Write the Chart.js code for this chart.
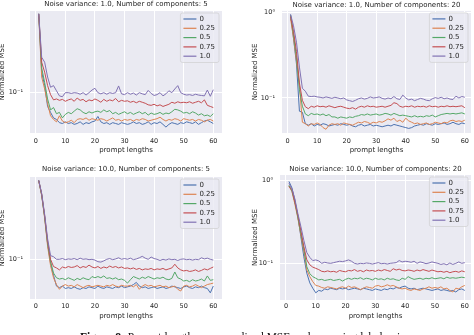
<!DOCTYPE html>
<html>
<head>
<meta charset="utf-8">
<script src="https://cdn.jsdelivr.net/npm/chart.js@4.4.0/dist/chart.umd.min.js"></script>
<style>
  body { margin: 0; width: 474px; height: 335px; overflow: hidden; background: #fff; position: relative; }
  canvas { position: absolute; }
  #caption {
    position: absolute; left: 80px; top: 331px; white-space: nowrap;
    font-family: "Liberation Serif", serif; font-size: 11.5px; line-height: 13px; color: #111;
  }
</style>
</head>
<body>
<canvas id="tl" width="237" height="160" style="left:0;top:0"></canvas>
<canvas id="tr" width="237" height="160" style="left:237px;top:0"></canvas>
<canvas id="bl" width="237" height="175" style="left:0;top:160px"></canvas>
<canvas id="br" width="237" height="175" style="left:237px;top:160px"></canvas>
<div id="caption"><b>Figure 8:</b> Prompt length vs. normalized MSE under varying label noise.</div>
<script>
// ---- data ----
const promptLengths = [1,2,3,4,5,6,7,8,9,10,11,12,13,14,15,16,17,18,19,20,
  21,22,23,24,25,26,27,28,29,30,31,32,33,34,35,36,37,38,39,40,
  41,42,43,44,45,46,47,48,49,50,51,52,53,54,55,56,57,58,59,60];
const seriesLabels = ['0', '0.25', '0.5', '0.75', '1.0'];
const xTickValues = [0, 10, 20, 30, 40, 50, 60];
const yTickValues = [0.1, 1];

// Noise variance 1.0, 5 components
const tl0 = [0.77,0.17,0.12,0.07,0.06,0.052,0.05,0.046,0.045,0.047,
  0.045,0.046,0.044,0.045,0.047,0.044,0.046,0.045,0.047,0.048,
  0.054,0.047,0.045,0.046,0.044,0.046,0.045,0.044,0.046,0.045,
  0.044,0.045,0.047,0.045,0.046,0.044,0.045,0.047,0.044,0.046,
  0.045,0.047,0.044,0.041,0.044,0.046,0.045,0.044,0.046,0.045,
  0.047,0.046,0.045,0.047,0.044,0.046,0.048,0.049,0.047,0.045];
const tl25 = [0.75,0.15,0.11,0.075,0.055,0.05,0.047,0.055,0.048,0.046,
  0.047,0.049,0.046,0.05,0.051,0.05,0.052,0.049,0.051,0.05,
  0.049,0.051,0.05,0.048,0.05,0.052,0.049,0.05,0.048,0.05,
  0.049,0.05,0.048,0.05,0.049,0.051,0.05,0.048,0.049,0.05,
  0.051,0.053,0.05,0.048,0.05,0.049,0.051,0.05,0.048,0.051,
  0.05,0.049,0.05,0.048,0.05,0.049,0.047,0.049,0.05,0.048];
const tl50 = [0.77,0.19,0.13,0.085,0.064,0.068,0.058,0.06,0.052,0.057,
  0.06,0.058,0.062,0.066,0.064,0.06,0.058,0.061,0.059,0.061,
  0.062,0.06,0.064,0.061,0.063,0.058,0.06,0.057,0.059,0.061,
  0.058,0.06,0.057,0.059,0.061,0.058,0.06,0.056,0.059,0.057,
  0.058,0.06,0.057,0.059,0.058,0.061,0.065,0.064,0.062,0.059,
  0.06,0.058,0.061,0.059,0.056,0.058,0.055,0.056,0.054,0.058];
const tl75 = [0.77,0.22,0.17,0.12,0.095,0.083,0.085,0.082,0.084,0.08,
  0.083,0.085,0.08,0.087,0.082,0.084,0.079,0.083,0.081,0.085,
  0.082,0.078,0.084,0.08,0.083,0.081,0.086,0.079,0.082,0.08,
  0.081,0.078,0.08,0.077,0.08,0.078,0.076,0.073,0.072,0.074,
  0.071,0.073,0.07,0.072,0.074,0.078,0.076,0.079,0.077,0.078,
  0.077,0.079,0.076,0.078,0.08,0.077,0.083,0.072,0.07,0.068];
const tl100 = [0.77,0.25,0.22,0.15,0.115,0.12,0.105,0.092,0.09,0.1,
  0.1,0.098,0.1,0.099,0.096,0.1,0.094,0.1,0.107,0.112,
  0.1,0.097,0.1,0.096,0.1,0.098,0.1,0.119,0.097,0.095,
  0.1,0.096,0.099,0.094,0.1,0.097,0.095,0.106,0.098,0.093,
  0.095,0.1,0.092,0.097,0.105,0.1,0.11,0.12,0.1,0.096,
  0.094,0.095,0.093,0.096,0.094,0.093,0.092,0.107,0.091,0.108];

// Noise variance 1.0, 20 components
const tr0 = [0.95,0.5,0.25,0.07,0.068,0.05,0.048,0.05,0.047,0.049,
  0.048,0.05,0.049,0.047,0.048,0.049,0.048,0.05,0.049,0.048,
  0.049,0.047,0.046,0.048,0.049,0.047,0.048,0.049,0.047,0.048,
  0.047,0.046,0.047,0.048,0.047,0.049,0.048,0.047,0.046,0.045,
  0.044,0.045,0.047,0.048,0.049,0.048,0.05,0.049,0.048,0.05,
  0.049,0.05,0.051,0.049,0.05,0.052,0.05,0.049,0.051,0.05];
const tr25 = [0.85,0.5,0.27,0.14,0.052,0.05,0.047,0.05,0.049,0.051,
  0.049,0.045,0.043,0.048,0.05,0.049,0.05,0.048,0.051,0.05,
  0.049,0.048,0.05,0.052,0.051,0.053,0.052,0.05,0.052,0.051,
  0.053,0.052,0.054,0.057,0.055,0.058,0.053,0.055,0.052,0.058,
  0.054,0.052,0.05,0.051,0.049,0.05,0.051,0.049,0.05,0.052,
  0.051,0.05,0.052,0.051,0.054,0.055,0.053,0.054,0.053,0.055];
const tr50 = [0.93,0.55,0.3,0.125,0.08,0.065,0.062,0.066,0.064,0.065,
  0.063,0.065,0.062,0.064,0.06,0.06,0.058,0.06,0.059,0.058,
  0.06,0.059,0.061,0.062,0.064,0.063,0.065,0.063,0.064,0.065,
  0.063,0.064,0.066,0.065,0.063,0.066,0.064,0.062,0.063,0.062,
  0.061,0.06,0.062,0.06,0.061,0.06,0.062,0.061,0.063,0.06,
  0.062,0.064,0.065,0.066,0.065,0.066,0.065,0.066,0.067,0.065];
const tr75 = [0.9,0.6,0.35,0.15,0.094,0.079,0.075,0.08,0.078,0.081,
  0.079,0.08,0.078,0.081,0.079,0.077,0.079,0.08,0.078,0.076,
  0.075,0.077,0.074,0.078,0.08,0.078,0.081,0.079,0.08,0.078,
  0.079,0.08,0.078,0.08,0.082,0.088,0.086,0.08,0.078,0.08,
  0.079,0.081,0.078,0.08,0.079,0.08,0.078,0.081,0.079,0.08,
  0.078,0.08,0.079,0.081,0.079,0.08,0.079,0.08,0.081,0.077];
const tr100 = [0.95,0.7,0.45,0.23,0.13,0.12,0.105,0.104,0.105,0.103,
  0.102,0.1,0.103,0.101,0.099,0.102,0.1,0.098,0.1,0.095,
  0.093,0.091,0.094,0.098,0.1,0.097,0.099,0.103,0.1,0.101,
  0.103,0.099,0.097,0.1,0.098,0.104,0.098,0.096,0.108,0.1,
  0.095,0.097,0.093,0.096,0.099,0.097,0.094,0.093,0.098,0.101,
  0.099,0.102,0.098,0.1,0.097,0.096,0.105,0.1,0.104,0.102];

// Noise variance 10.0, 5 components
const bl0 = [0.77,0.53,0.3,0.15,0.09,0.066,0.05,0.048,0.05,0.047,
  0.048,0.047,0.049,0.047,0.046,0.048,0.047,0.049,0.048,0.047,
  0.05,0.048,0.047,0.049,0.048,0.047,0.049,0.048,0.05,0.048,
  0.049,0.05,0.052,0.055,0.05,0.048,0.049,0.047,0.048,0.049,
  0.047,0.048,0.049,0.047,0.048,0.05,0.049,0.048,0.047,0.049,
  0.05,0.048,0.047,0.049,0.048,0.05,0.048,0.047,0.042,0.05];
const bl25 = [0.76,0.52,0.29,0.14,0.085,0.062,0.052,0.046,0.05,0.052,
  0.05,0.051,0.049,0.052,0.05,0.048,0.05,0.051,0.049,0.05,
  0.051,0.05,0.049,0.051,0.05,0.052,0.05,0.049,0.051,0.05,
  0.05,0.051,0.049,0.052,0.046,0.05,0.052,0.05,0.051,0.049,
  0.05,0.051,0.049,0.05,0.048,0.049,0.05,0.046,0.044,0.05,
  0.051,0.049,0.05,0.052,0.05,0.048,0.05,0.052,0.053,0.054];
const bl50 = [0.77,0.53,0.3,0.15,0.095,0.07,0.062,0.06,0.061,0.059,
  0.062,0.06,0.058,0.061,0.059,0.062,0.06,0.059,0.064,0.062,
  0.064,0.062,0.065,0.061,0.062,0.06,0.062,0.059,0.06,0.058,
  0.054,0.059,0.064,0.062,0.06,0.063,0.061,0.064,0.062,0.06,
  0.062,0.061,0.063,0.06,0.059,0.061,0.072,0.062,0.06,0.057,
  0.058,0.056,0.059,0.057,0.058,0.06,0.057,0.065,0.058,0.059];
const bl75 = [0.77,0.54,0.31,0.16,0.1,0.083,0.08,0.076,0.082,0.08,
  0.083,0.081,0.082,0.085,0.08,0.083,0.081,0.086,0.082,0.08,
  0.083,0.079,0.082,0.08,0.084,0.081,0.083,0.08,0.082,0.079,
  0.08,0.078,0.08,0.077,0.079,0.076,0.078,0.077,0.079,0.076,
  0.078,0.077,0.079,0.076,0.078,0.08,0.088,0.08,0.076,0.074,
  0.075,0.073,0.074,0.076,0.073,0.075,0.078,0.076,0.079,0.082];
const bl100 = [0.77,0.55,0.32,0.17,0.11,0.107,0.1,0.1,0.102,0.099,
  0.101,0.1,0.102,0.099,0.103,0.1,0.101,0.099,0.1,0.098,
  0.094,0.093,0.096,0.1,0.102,0.099,0.101,0.104,0.1,0.102,
  0.1,0.103,0.099,0.101,0.104,0.108,0.103,0.1,0.106,0.102,
  0.1,0.097,0.1,0.098,0.101,0.099,0.1,0.097,0.1,0.101,
  0.099,0.1,0.098,0.1,0.099,0.104,0.101,0.103,0.1,0.098];

// Noise variance 10.0, 20 components
const br0 = [0.98,0.82,0.58,0.37,0.21,0.12,0.076,0.058,0.05,0.044,
  0.047,0.046,0.049,0.048,0.05,0.049,0.048,0.05,0.049,0.05,
  0.048,0.049,0.05,0.049,0.048,0.05,0.049,0.048,0.047,0.049,
  0.048,0.047,0.049,0.048,0.05,0.049,0.051,0.05,0.052,0.053,
  0.05,0.049,0.05,0.048,0.049,0.05,0.049,0.048,0.047,0.048,
  0.049,0.047,0.048,0.047,0.046,0.047,0.045,0.048,0.049,0.047];
const br25 = [0.86,0.74,0.52,0.35,0.22,0.14,0.083,0.069,0.06,0.054,
  0.053,0.051,0.05,0.052,0.051,0.05,0.049,0.051,0.052,0.05,
  0.053,0.051,0.052,0.05,0.048,0.05,0.052,0.051,0.05,0.053,
  0.054,0.052,0.053,0.055,0.053,0.054,0.052,0.05,0.049,0.05,
  0.048,0.047,0.049,0.048,0.047,0.049,0.05,0.052,0.05,0.051,
  0.05,0.052,0.049,0.05,0.047,0.045,0.05,0.049,0.052,0.054];
const br50 = [0.88,0.75,0.55,0.36,0.23,0.15,0.091,0.075,0.069,0.066,
  0.063,0.064,0.062,0.063,0.064,0.062,0.063,0.064,0.061,0.064,
  0.066,0.064,0.066,0.065,0.067,0.064,0.066,0.065,0.063,0.066,
  0.064,0.065,0.063,0.066,0.064,0.065,0.063,0.062,0.066,0.064,
  0.069,0.066,0.064,0.065,0.066,0.064,0.066,0.065,0.067,0.065,
  0.066,0.067,0.065,0.068,0.066,0.067,0.066,0.067,0.068,0.067];
const br75 = [0.85,0.78,0.55,0.38,0.25,0.16,0.11,0.096,0.09,0.087,
  0.084,0.08,0.079,0.081,0.079,0.08,0.078,0.082,0.08,0.079,
  0.082,0.081,0.084,0.08,0.082,0.079,0.083,0.081,0.082,0.08,
  0.083,0.081,0.084,0.082,0.08,0.086,0.083,0.085,0.082,0.081,
  0.083,0.082,0.08,0.083,0.081,0.084,0.082,0.08,0.083,0.081,
  0.079,0.08,0.078,0.08,0.077,0.079,0.08,0.078,0.081,0.079];
const br100 = [0.93,0.8,0.6,0.4,0.28,0.19,0.135,0.118,0.108,0.11,
  0.107,0.1,0.103,0.101,0.1,0.102,0.104,0.106,0.105,0.107,
  0.11,0.106,0.1,0.098,0.1,0.099,0.101,0.1,0.098,0.1,
  0.102,0.099,0.1,0.098,0.1,0.101,0.102,0.108,0.104,0.106,
  0.105,0.103,0.106,0.1,0.104,0.102,0.099,0.101,0.104,0.102,
  0.1,0.097,0.099,0.096,0.101,0.097,0.1,0.104,0.1,0.102];

// ---- style ----
const FONT = '"DejaVu Sans", sans-serif';
const INK = '#262626';
const colors = ['#4c72b0', '#dd8452', '#55a868', '#c44e52', '#8172b3'];
Chart.defaults.font.family = FONT;

const plotBg = {
  id: 'plotBg',
  beforeDraw(chart) {
    const a = chart.chartArea, ctx = chart.ctx;
    ctx.save();
    ctx.fillStyle = '#eaeaf2';
    ctx.fillRect(a.left, a.top, a.right - a.left, a.bottom - a.top);
    ctx.restore();
  }
};

// legend box in the upper right corner of the axes, like matplotlib
const legendBox = {
  id: 'legendBox',
  afterDatasetsDraw(chart) {
    const a = chart.chartArea, ctx = chart.ctx;
    const sets = chart.data.datasets;
    ctx.save();
    ctx.font = '7px ' + FONT;
    const tw = Math.max(...sets.map(d => ctx.measureText(d.label).width));
    const row = 9.3;
    const w = 19 + tw + 4, h = row * sets.length + 3;
    const x = a.right - 3 - w, y = a.top + 2;
    ctx.beginPath();
    ctx.roundRect(x, y, w, h, 2);
    ctx.fillStyle = 'rgba(234,234,242,0.8)';
    ctx.fill();
    ctx.strokeStyle = 'rgba(204,204,204,0.8)';
    ctx.lineWidth = 0.8;
    ctx.stroke();
    ctx.textBaseline = 'middle';
    sets.forEach((d, i) => {
      const cy = y + 6 + i * row;
      ctx.beginPath();
      ctx.moveTo(x + 3, cy);
      ctx.lineTo(x + 16, cy);
      ctx.strokeStyle = d.borderColor;
      ctx.lineWidth = 1.2;
      ctx.stroke();
      ctx.fillStyle = INK;
      ctx.fillText(d.label, x + 19, cy);
    });
    ctx.restore();
  }
};

function panel(id, title, series, xRange, yRange, box) {
  const el = document.getElementById(id);
  const W = el.width, H = el.height;
  return new Chart(el, {
    type: 'line',
    data: {
      datasets: series.map((vals, i) => ({
        label: seriesLabels[i],
        data: vals.map((v, j) => ({ x: promptLengths[j], y: v })),
        borderColor: colors[i],
        borderWidth: 1,
        pointRadius: 0,
        tension: 0,
        order: series.length - i
      }))
    },
    options: {
      responsive: false,
      animation: false,
      events: [],
      layout: { padding: { left: 0, right: W - box.right, top: box.titleTop, bottom: H - box.axisBottom } },
      plugins: {
        legend: { display: false },
        tooltip: { enabled: false },
        title: {
          display: true, text: title, fullSize: false, color: INK,
          font: { size: 7, weight: 'normal', lineHeight: 1.2 },
          padding: { top: 0, bottom: box.top - box.titleTop - 8.4 }
        }
      },
      scales: {
        x: {
          type: 'linear', min: xRange[0], max: xRange[1],
          afterBuildTicks: s => { s.ticks = xTickValues.map(v => ({ value: v })); },
          afterFit: s => { s.height = box.axisBottom - box.bottom; },
          grid: { color: '#ffffff', lineWidth: 1, drawTicks: false },
          border: { display: false },
          ticks: { color: INK, font: { size: 6.5 }, padding: box.tickPad, maxRotation: 0 },
          title: { display: true, text: 'prompt lengths', color: INK, font: { size: 7 }, padding: { top: 0, bottom: 0 } }
        },
        y: {
          type: 'logarithmic', min: yRange[0], max: yRange[1],
          afterBuildTicks: s => {
            s.ticks = yTickValues.filter(v => v >= s.min && v <= s.max).map(v => ({ value: v }));
          },
          afterFit: s => { s.width = box.left; },
          grid: { color: '#ffffff', lineWidth: 1, drawTicks: false },
          border: { display: false },
          ticks: {
            color: INK, font: { size: 6.5 }, padding: 7,
            callback: v => (v === 1 ? '10\u2070' : '10\u207b\u00b9')
          },
          title: { display: true, text: 'Normalized MSE', color: INK, font: { size: 7 }, padding: { top: box.ylabelPad, bottom: 0 } }
        }
      }
    },
    plugins: [plotBg, legendBox]
  });
}

panel('tl', 'Noise variance: 1.0, Number of components: 5', [tl0, tl25, tl50, tl75, tl100],
  [-1.95, 62.95], [0.0352, 0.828],
  { left: 30, right: 222, top: 11, bottom: 133, titleTop: 0, tickPad: 4.8, axisBottom: 154.5, ylabelPad: -1.7 });
panel('tr', 'Noise variance: 1.0, Number of components: 20', [tr0, tr25, tr50, tr75, tr100],
  [-1.9, 62.1], [0.0389, 1.047],
  { left: 45, right: 234, top: 10, bottom: 133, titleTop: 0, tickPad: 4.8, axisBottom: 154.5, ylabelPad: 13.8 });
panel('bl', 'Noise variance: 10.0, Number of components: 5', [bl0, bl25, bl50, bl75, bl100],
  [-1.95, 62.95], [0.0358, 0.841],
  { left: 30, right: 222, top: 17, bottom: 139, titleTop: 4.8, tickPad: 3.8, axisBottom: 160.5, ylabelPad: -1.7 });
panel('br', 'Noise variance: 10.0, Number of components: 20', [br0, br25, br50, br75, br100],
  [-2.0, 62.1], [0.036, 1.172],
  { left: 43, right: 234, top: 15, bottom: 140, titleTop: 5.1, tickPad: 2.8, axisBottom: 160.5, ylabelPad: 13.8 });
</script>
</body>
</html>
